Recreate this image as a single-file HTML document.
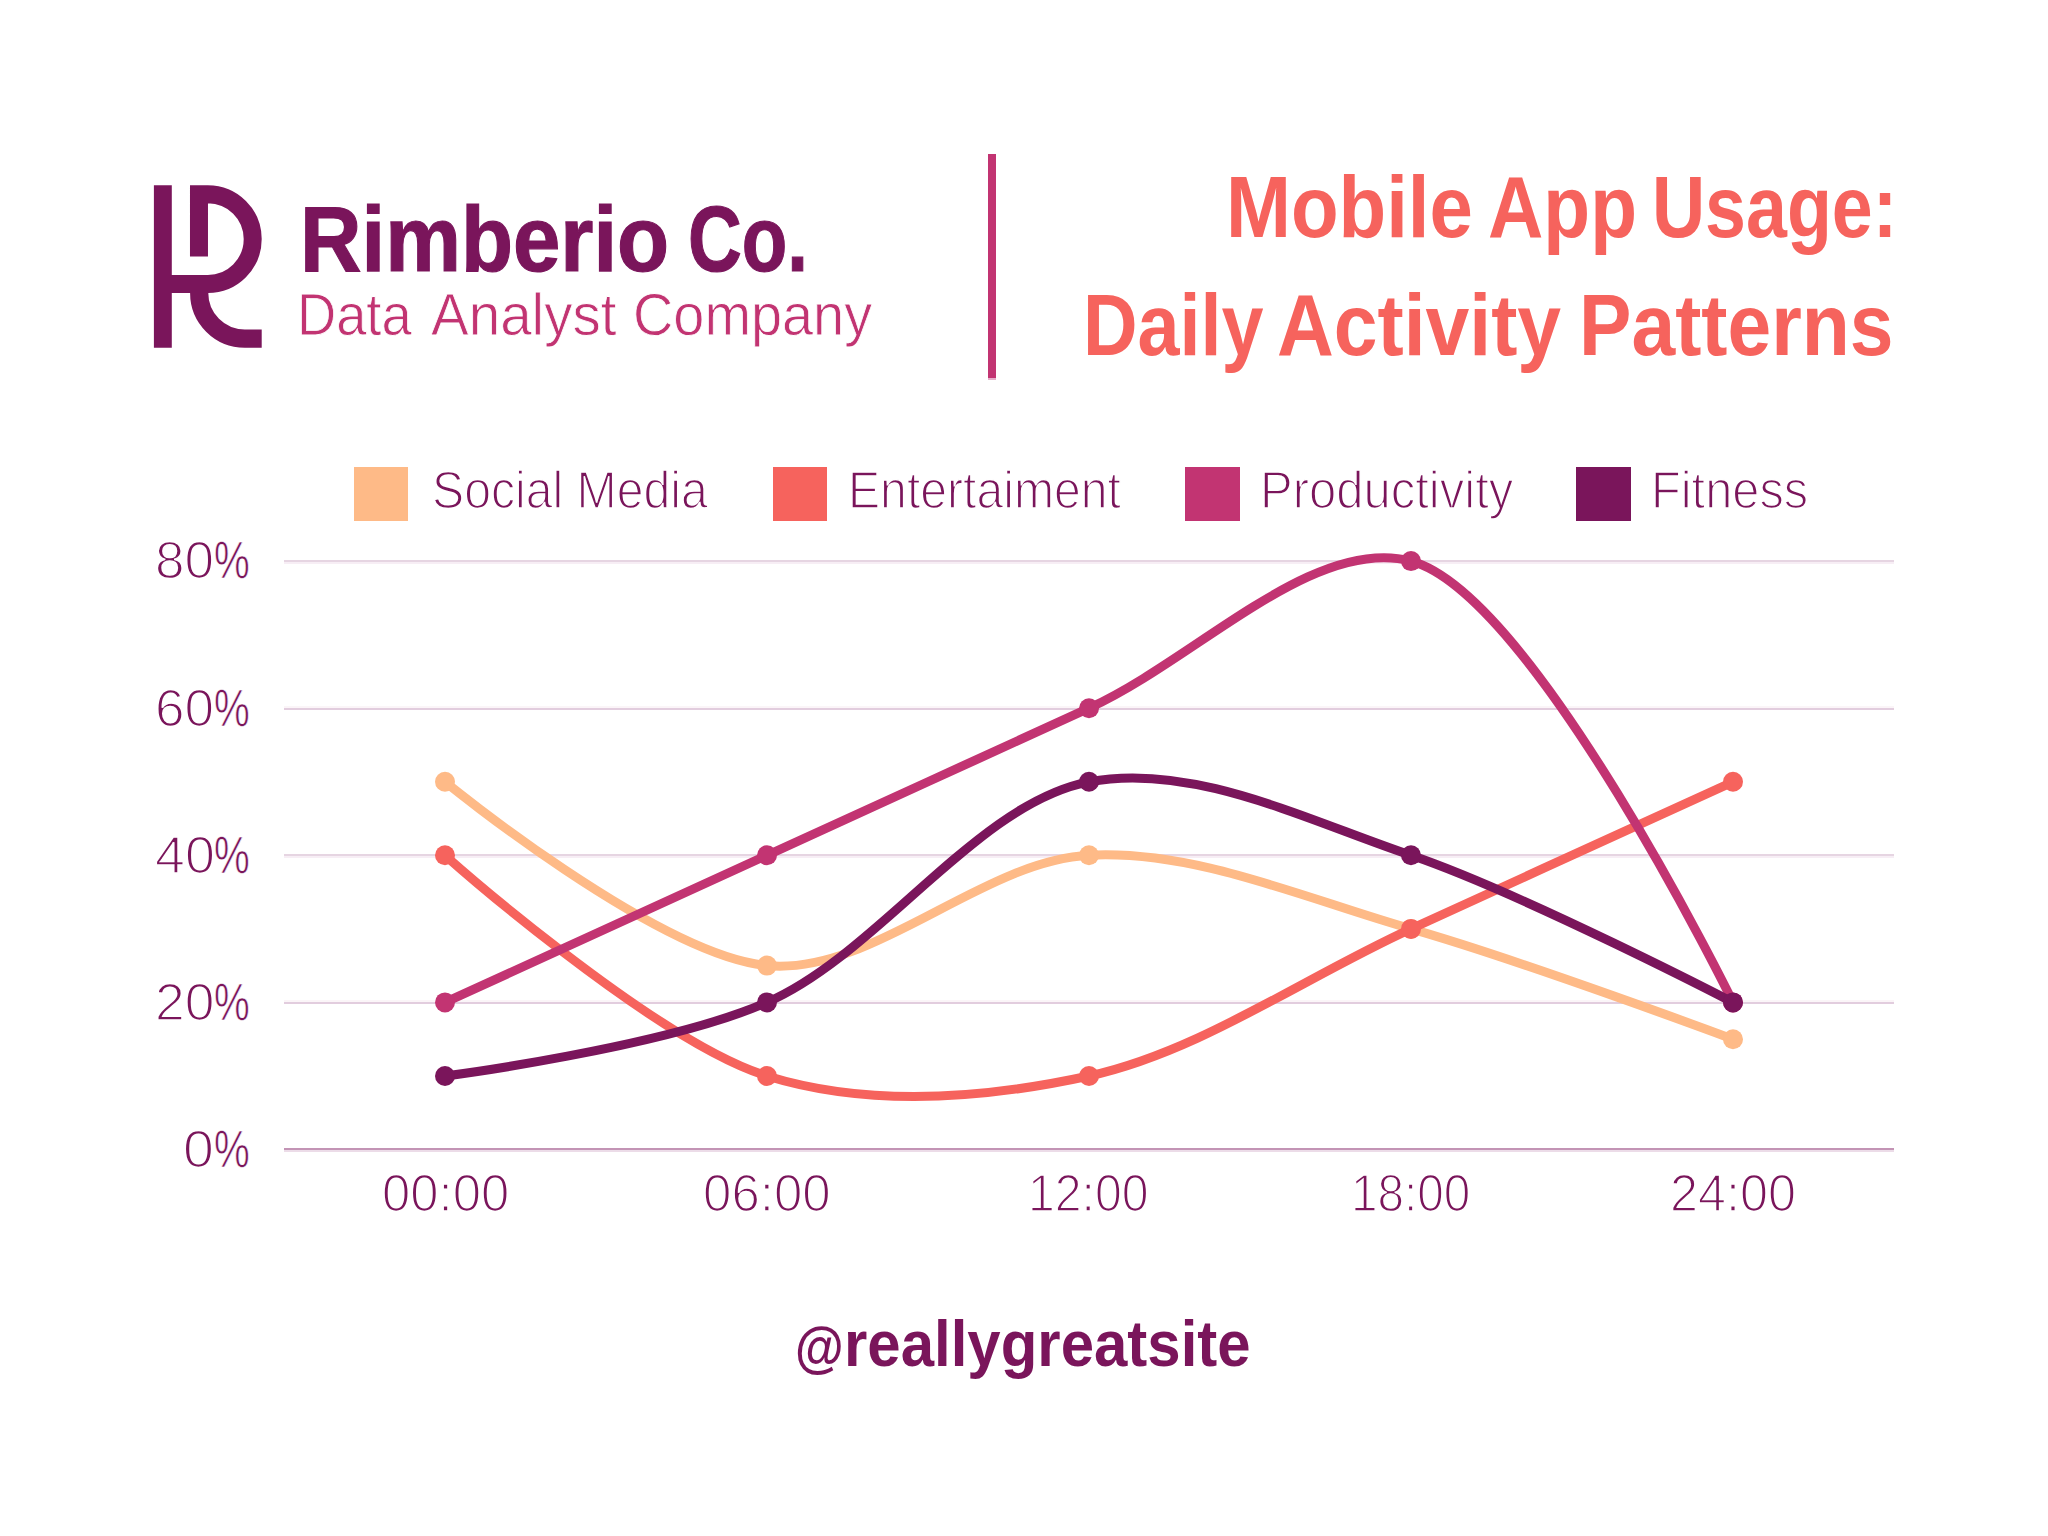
<!DOCTYPE html>
<html lang="en"><head><meta charset="utf-8"><title>Mobile App Usage: Daily Activity Patterns</title>
<style>
html,body{margin:0;padding:0;background:#fff;}
body{width:2048px;height:1536px;position:relative;overflow:hidden;font-family:"Liberation Sans",sans-serif;}
.t{position:absolute;white-space:nowrap;line-height:1;transform-origin:0 0;font-family:"Liberation Sans",sans-serif;}
.g{position:absolute;left:0;width:2048px;height:0;line-height:1;white-space:nowrap;font-family:"Liberation Sans",sans-serif;}
.sw{position:absolute;width:54.6px;height:54.2px;top:467.3px;}
svg{position:absolute;left:0;top:0;}
</style></head><body>
<svg width="2048" height="1536" viewBox="0 0 2048 1536">
<g id="logo" fill="none" stroke="#7A155B">
<path d="M162.85 185.2V347.7" stroke-width="17.9"/>
<path d="M198.98 256.5V194.2H207.85A44.85 44.85 0 0 1 207.85 283.9H171" stroke-width="18"/>
<path d="M199.2 293A45.6 45.6 0 0 0 244.8 338.6H261.7" stroke-width="18.2"/>
</g>
<rect x="988" y="154" width="8" height="224" fill="#C23472"/><rect x="988" y="378" width="8" height="2" fill="#E8AECA"/>
<rect x="284" y="560" width="1610" height="2" fill="#E6D5E2"/><rect x="284" y="562" width="1610" height="2" fill="#F7EEF5"/>
<rect x="284" y="706" width="1610" height="2" fill="#FBF5F8"/><rect x="284" y="708" width="1610" height="2" fill="#E2CDDE"/>
<rect x="284" y="854" width="1610" height="2" fill="#E6D5E2"/><rect x="284" y="856" width="1610" height="2" fill="#F7EEF5"/>
<rect x="284" y="1000" width="1610" height="2" fill="#FBF5F8"/><rect x="284" y="1002" width="1610" height="2" fill="#E2CDDE"/>
<rect x="284" y="1148" width="1610" height="2" fill="#C394B5"/><rect x="284" y="1150" width="1610" height="2" fill="#ECDCE8"/>
<g class="s-social"><path d="M445.0 781.8 C445.0 781.8 657.3 955.2 767.0 965.6 C872.1 975.6 980.8 861.0 1089.0 855.3 C1195.5 849.7 1304.5 898.5 1411.0 928.9 C1519.2 959.6 1733.0 1039.2 1733.0 1039.2" fill="none" stroke="#FEBA87" stroke-width="9" stroke-linecap="round" stroke-linejoin="round"/>
<circle cx="445.0" cy="781.8" r="10" fill="#FEBA87"/>
<circle cx="767.0" cy="965.6" r="10" fill="#FEBA87"/>
<circle cx="1089.0" cy="855.3" r="10" fill="#FEBA87"/>
<circle cx="1411.0" cy="928.9" r="10" fill="#FEBA87"/>
<circle cx="1733.0" cy="1039.2" r="10" fill="#FEBA87"/>
</g>
<g class="s-ent"><path d="M445.0 855.3 C445.0 855.3 654.0 1040.9 767.0 1076.0 C869.6 1107.7 984.1 1098.8 1089.0 1076.0 C1199.0 1052.0 1303.7 977.9 1411.0 928.9 C1518.3 879.8 1733.0 781.8 1733.0 781.8" fill="none" stroke="#F6635D" stroke-width="9" stroke-linecap="round" stroke-linejoin="round"/>
<circle cx="445.0" cy="855.3" r="10" fill="#F6635D"/>
<circle cx="767.0" cy="1076.0" r="10" fill="#F6635D"/>
<circle cx="1089.0" cy="1076.0" r="10" fill="#F6635D"/>
<circle cx="1411.0" cy="928.9" r="10" fill="#F6635D"/>
<circle cx="1733.0" cy="781.8" r="10" fill="#F6635D"/>
</g>
<g class="s-prod"><path d="M445.0 1002.4 C445.0 1002.4 659.7 904.3 767.0 855.3 C874.3 806.3 981.7 757.2 1089.0 708.2 C1196.3 659.2 1313.0 535.5 1411.0 561.1 C1532.7 593.0 1733.0 1002.4 1733.0 1002.4" fill="none" stroke="#C23472" stroke-width="9" stroke-linecap="round" stroke-linejoin="round"/>
<circle cx="445.0" cy="1002.4" r="10" fill="#C23472"/>
<circle cx="767.0" cy="855.3" r="10" fill="#C23472"/>
<circle cx="1089.0" cy="708.2" r="10" fill="#C23472"/>
<circle cx="1411.0" cy="561.1" r="10" fill="#C23472"/>
<circle cx="1733.0" cy="1002.4" r="10" fill="#C23472"/>
</g>
<g class="s-fit"><path d="M445.0 1076.0 C445.0 1076.0 663.8 1047.6 767.0 1002.4 C879.2 953.3 976.8 803.1 1089.0 781.8 C1192.2 762.1 1305.5 819.6 1411.0 855.3 C1520.3 892.3 1733.0 1002.4 1733.0 1002.4" fill="none" stroke="#7A155B" stroke-width="9" stroke-linecap="round" stroke-linejoin="round"/>
<circle cx="445.0" cy="1076.0" r="10" fill="#7A155B"/>
<circle cx="767.0" cy="1002.4" r="10" fill="#7A155B"/>
<circle cx="1089.0" cy="781.8" r="10" fill="#7A155B"/>
<circle cx="1411.0" cy="855.3" r="10" fill="#7A155B"/>
<circle cx="1733.0" cy="1002.4" r="10" fill="#7A155B"/>
</g>

</svg>
<div class="sw" style="left:353.9px;background:#FEBA87"></div>
<div class="sw" style="left:772.5px;background:#F6635D"></div>
<div class="sw" style="left:1185.2px;background:#C23472"></div>
<div class="sw" style="left:1576.1px;background:#7A155B"></div>
<div id="brand" class="g" style="top:192.3px;font-size:93.5px;font-weight:700;color:#7A155B;-webkit-text-stroke:1.2px #7A155B;"><span class="t" style="left:299.8px;top:0.0px;transform:scaleX(0.9108)">Rimberio</span> <span class="t" style="left:688.0px;top:0.0px;transform:scaleX(0.7972)">Co.</span></div>
<div id="sub" class="g" style="top:284.6px;font-size:59.2px;font-weight:400;color:#C23472;-webkit-text-stroke:0.8px #fff;"><span class="t" style="left:297.4px;top:0.0px;transform:scaleX(0.9167)">Data</span> <span class="t" style="left:430.8px;top:0.0px;transform:scaleX(0.9552)">Analyst</span> <span class="t" style="left:632.7px;top:0.0px;transform:scaleX(0.9438)">Company</span></div>
<div id="t1" class="g" style="top:163.9px;font-size:87.4px;font-weight:700;color:#F6635D;"><span class="t" style="left:1226.2px;top:0.0px;transform:scaleX(0.8922)">Mobile</span> <span class="t" style="left:1487.8px;top:0.0px;transform:scaleX(0.8768)">App</span> <span class="t" style="left:1652.4px;top:0.0px;transform:scaleX(0.8414)">Usage:</span></div>
<div id="t2" class="g" style="top:282.1px;font-size:87.4px;font-weight:700;color:#F6635D;"><span class="t" style="left:1082.8px;top:0.0px;transform:scaleX(0.8639)">Daily</span> <span class="t" style="left:1276.9px;top:0.0px;transform:scaleX(0.9000)">Activity</span> <span class="t" style="left:1579.3px;top:0.0px;transform:scaleX(0.8994)">Patterns</span></div>
<div id="l1" class="t" style="left:431.7px;top:463.9px;font-size:52.6px;font-weight:400;color:#7A155B;-webkit-text-stroke:1.6px #fff;transform:scaleX(0.9158)">Social Media</div>
<div id="l2" class="t" style="left:847.9px;top:463.9px;font-size:52.6px;font-weight:400;color:#7A155B;-webkit-text-stroke:1.6px #fff;transform:scaleX(0.9154)">Entertaiment</div>
<div id="l3" class="t" style="left:1259.9px;top:463.9px;font-size:52.6px;font-weight:400;color:#7A155B;-webkit-text-stroke:1.6px #fff;transform:scaleX(0.9317)">Productivity</div>
<div id="l4" class="t" style="left:1651.3px;top:463.9px;font-size:52.6px;font-weight:400;color:#7A155B;-webkit-text-stroke:1.6px #fff;transform:scaleX(0.9272)">Fitness</div>
<div id="y80" class="g" style="top:534.4px;font-size:52.3px;font-weight:400;color:#7A155B;-webkit-text-stroke:1.6px #fff;"><span class="t" style="left:155.3px;top:0.0px;transform:scaleX(1.0135)">80</span><span class="t" style="left:214.4px;top:0.0px;-webkit-text-stroke:0.7px #fff;transform:scaleX(0.7690)">%</span></div>
<div id="y60" class="g" style="top:682.2px;font-size:52.3px;font-weight:400;color:#7A155B;-webkit-text-stroke:1.6px #fff;"><span class="t" style="left:155.3px;top:0.0px;transform:scaleX(1.0135)">60</span><span class="t" style="left:214.4px;top:0.0px;-webkit-text-stroke:0.7px #fff;transform:scaleX(0.7690)">%</span></div>
<div id="y40" class="g" style="top:828.5px;font-size:52.3px;font-weight:400;color:#7A155B;-webkit-text-stroke:1.6px #fff;"><span class="t" style="left:154.8px;top:0.0px;transform:scaleX(1.0283)">40</span><span class="t" style="left:214.4px;top:0.0px;-webkit-text-stroke:0.7px #fff;transform:scaleX(0.7690)">%</span></div>
<div id="y20" class="g" style="top:976.1px;font-size:52.3px;font-weight:400;color:#7A155B;-webkit-text-stroke:1.6px #fff;"><span class="t" style="left:155.2px;top:0.0px;transform:scaleX(1.0212)">20</span><span class="t" style="left:214.4px;top:0.0px;-webkit-text-stroke:0.7px #fff;transform:scaleX(0.7690)">%</span></div>
<div id="y0" class="g" style="top:1122.6px;font-size:52.3px;font-weight:400;color:#7A155B;-webkit-text-stroke:1.6px #fff;"><span class="t" style="left:182.9px;top:0.0px;transform:scaleX(1.0609)">0</span><span class="t" style="left:214.4px;top:0.0px;-webkit-text-stroke:0.7px #fff;transform:scaleX(0.7690)">%</span></div>
<div id="x0" class="t" style="left:381.5px;top:1166.7px;font-size:52.3px;font-weight:400;color:#7A155B;-webkit-text-stroke:1.6px #fff;transform:scaleX(0.9720)">00:00</div>
<div id="x1" class="t" style="left:703.3px;top:1166.7px;font-size:52.3px;font-weight:400;color:#7A155B;-webkit-text-stroke:1.6px #fff;transform:scaleX(0.9760)">06:00</div>
<div id="x2" class="t" style="left:1028.2px;top:1166.7px;font-size:52.3px;font-weight:400;color:#7A155B;-webkit-text-stroke:1.6px #fff;transform:scaleX(0.9211)">12:00</div>
<div id="x3" class="t" style="left:1350.9px;top:1166.7px;font-size:52.3px;font-weight:400;color:#7A155B;-webkit-text-stroke:1.6px #fff;transform:scaleX(0.9122)">18:00</div>
<div id="x4" class="t" style="left:1669.7px;top:1166.7px;font-size:52.3px;font-weight:400;color:#7A155B;-webkit-text-stroke:1.6px #fff;transform:scaleX(0.9616)">24:00</div>
<div id="foot" class="g" style="top:1311.7px;font-size:64px;font-weight:700;color:#7A155B;"><span class="t" style="left:795.4px;top:6.9px;font-size:56.2px;transform:scaleX(0.8878)">@</span><span class="t" style="left:844.4px;top:0.0px;transform:scaleX(0.9369)">reallygreatsite</span></div>
</body></html>
